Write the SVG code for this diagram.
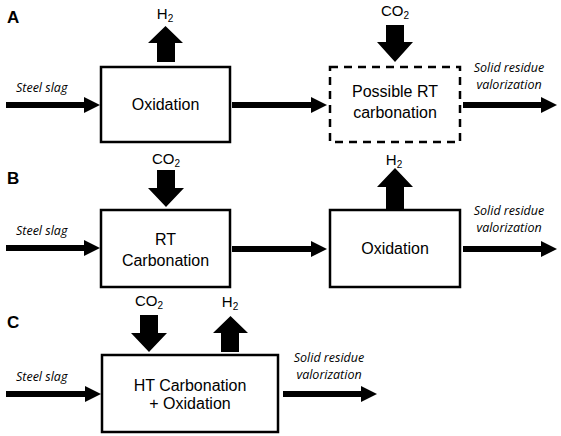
<svg xmlns="http://www.w3.org/2000/svg" width="561" height="436" viewBox="0 0 561 436">
<style>
.box{fill:#fff;stroke:#000;stroke-width:2.5}
.dash{fill:#fff;stroke:#000;stroke-width:2.5;stroke-dasharray:8 6}
.t{font-family:"Liberation Sans",Arial,sans-serif;font-size:16px;fill:#000;text-anchor:middle}
.g{font-family:"Liberation Sans",Arial,sans-serif;font-size:15px;fill:#000;text-anchor:middle}
.sub{font-size:10px}
.i{font-family:"Open Sans","Liberation Sans",sans-serif;font-style:italic;font-size:12.5px;fill:#000}
.L{font-family:"Liberation Sans",Arial,sans-serif;font-weight:bold;font-size:17px;fill:#000}
.ln{stroke:#000;stroke-width:6;fill:none}
.blk{fill:#000}
</style>
<rect width="561" height="436" fill="#fff"/>
<text class="L" x="7" y="23">A</text>
<text class="L" x="7" y="184">B</text>
<text class="L" x="7" y="328">C</text>

<g id="connectors">
  <!-- A -->
  <line class="ln" x1="6" y1="105" x2="86" y2="105"/><polygon class="blk" points="84,97 100,105 84,113"/>
  <line class="ln" x1="232" y1="105" x2="313" y2="105"/><polygon class="blk" points="311,97 327,105 311,113"/>
  <line class="ln" x1="463" y1="105" x2="543" y2="105"/><polygon class="blk" points="541,97 557,105 541,113"/>
  <polygon class="blk" points="157,62 157,43 148,43 165.5,26 183,43 175,43 175,62"/>
  <polygon class="blk" points="386,25 404,25 404,42 413,42 395,62 377,42 386,42"/>
  <!-- B -->
  <line class="ln" x1="6" y1="248" x2="86" y2="248"/><polygon class="blk" points="84,240 100,248 84,256"/>
  <line class="ln" x1="232" y1="249" x2="313" y2="249"/><polygon class="blk" points="311,241 327,249 311,257"/>
  <line class="ln" x1="463" y1="249" x2="543" y2="249"/><polygon class="blk" points="541,241 557,249 541,257"/>
  <polygon class="blk" points="157,170 175,170 175,188 184,188 166,207 148,188 157,188"/>
  <polygon class="blk" points="386,209 386,187 377,187 395,168 413,187 404,187 404,209"/>
  <!-- C -->
  <line class="ln" x1="6" y1="394" x2="87" y2="394"/><polygon class="blk" points="85,386 101,394 85,402"/>
  <line class="ln" x1="283" y1="394" x2="363" y2="394"/><polygon class="blk" points="361,386 377,394 361,402"/>
  <polygon class="blk" points="140,315 158,315 158,333 167,333 149,352 131,333 140,333"/>
  <polygon class="blk" points="221,352 221,333 213,333 230.5,316 248,333 239,333 239,352"/>
</g>

<g id="labels">
  <text class="i" x="16" y="92">Steel slag</text>
  <text class="i" x="16" y="235">Steel slag</text>
  <text class="i" x="16" y="381">Steel slag</text>
  <text class="i" x="509" y="72" text-anchor="middle">Solid residue</text>
  <text class="i" x="509" y="89" text-anchor="middle">valorization</text>
  <text class="i" x="509" y="215" text-anchor="middle">Solid residue</text>
  <text class="i" x="509" y="232" text-anchor="middle">valorization</text>
  <text class="i" x="329" y="362" text-anchor="middle">Solid residue</text>
  <text class="i" x="329" y="379" text-anchor="middle">valorization</text>
  <text class="g" x="165" y="19">H<tspan class="sub" dy="3">2</tspan></text>
  <text class="g" x="395" y="16">CO<tspan class="sub" dy="3">2</tspan></text>
  <text class="g" x="166" y="164">CO<tspan class="sub" dy="3">2</tspan></text>
  <text class="g" x="394" y="165">H<tspan class="sub" dy="3">2</tspan></text>
  <text class="g" x="149" y="306">CO<tspan class="sub" dy="3">2</tspan></text>
  <text class="g" x="230" y="307">H<tspan class="sub" dy="3">2</tspan></text>
</g>

<g id="nodeA1"><rect class="box" x="101" y="67" width="129" height="75"/><text class="t" x="165.5" y="110">Oxidation</text></g>
<g id="nodeA2"><rect class="dash" x="330" y="67" width="130" height="75"/><text class="t" x="395" y="97">Possible RT</text><text class="t" x="395" y="118">carbonation</text></g>
<g id="nodeB1"><rect class="box" x="101" y="210" width="129" height="77"/><text class="t" x="165.5" y="245">RT</text><text class="t" x="165.5" y="266">Carbonation</text></g>
<g id="nodeB2"><rect class="box" x="330" y="210" width="130" height="77"/><text class="t" x="395" y="254">Oxidation</text></g>
<g id="nodeC1"><rect class="box" x="102" y="355" width="176" height="77"/><text class="t" x="190" y="391">HT Carbonation</text><text class="t" x="190" y="409">+ Oxidation</text></g>
</svg>
